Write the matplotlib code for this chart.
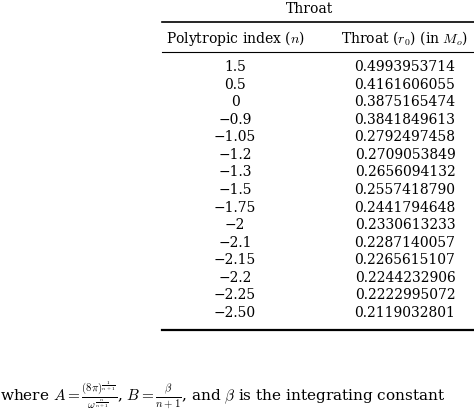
import matplotlib
matplotlib.use("Agg")
import matplotlib.pyplot as plt
from matplotlib.lines import Line2D

plt.rcParams['mathtext.fontset'] = 'cm'
plt.rcParams['font.family'] = ['DejaVu Serif']

title = "Throat"
col_headers = ["Polytropic index ($n$)", "Throat ($r_0$) (in $M_o$)"]
n_values = ["1.5", "0.5", "0", "\u22120.9", "\u22121.05", "\u22121.2", "\u22121.3", "\u22121.5",
            "\u22121.75", "\u22122", "\u22122.1", "\u22122.15", "\u22122.2", "\u22122.25", "\u22122.50"]
r0_values = ["0.4993953714", "0.4161606055", "0.3875165474", "0.3841849613", "0.2792497458",
             "0.2709053849", "0.2656094132", "0.2557418790", "0.2441794648", "0.2330613233",
             "0.2287140057", "0.2265615107", "0.2244232906", "0.2222995072", "0.2119032801"]

W, H = 474, 415
fig = plt.figure(figsize=(W/100, H/100), dpi=100)
def fy(y): return 1 - y/H
def fx(x): return x/W

fs = 10
fig.text(fx(310), fy(9), title, ha='center', va='center', fontsize=fs)
fig.add_artist(Line2D([fx(162), 1], [fy(22), fy(22)], color='black', lw=1.2))
fig.text(fx(235), fy(38), col_headers[0], ha='center', va='center', fontsize=fs)
fig.text(fx(405), fy(38), col_headers[1], ha='center', va='center', fontsize=fs)
fig.add_artist(Line2D([fx(162), 1], [fy(52), fy(52)], color='black', lw=0.8))
y0, dy = 67, 17.57
for i, (a, b) in enumerate(zip(n_values, r0_values)):
    y = y0 + i*dy
    fig.text(fx(235), fy(y), a, ha='center', va='center', fontsize=fs)
    fig.text(fx(405), fy(y), b, ha='center', va='center', fontsize=fs)
fig.add_artist(Line2D([fx(162), 1], [fy(330), fy(330)], color='black', lw=1.6))

fig.text(0, fy(395), r"where $A=\frac{(8\pi)^{\frac{1}{n+1}}}{\omega^{\frac{n}{n+1}}}$, $B=\frac{\beta}{n+1}$, and $\beta$ is the integrating constant",
         ha='left', va='center', fontsize=11)
fig.savefig("out.png", dpi=100)
